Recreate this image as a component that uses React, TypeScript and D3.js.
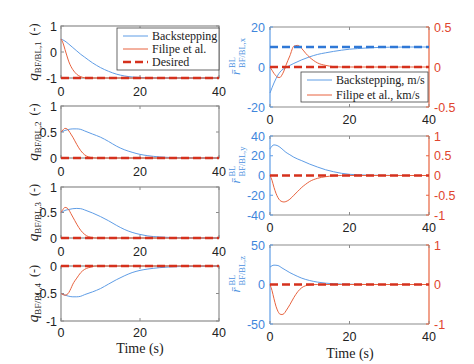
// @ts-nocheck
import * as d3 from "d3";

// time samples (s)
const tBlue = [0, 1, 2, 3, 4, 5, 6, 8, 10, 12, 14, 16, 18, 20, 22, 25, 30, 35, 40];
const tRed = [0, 0.5, 1, 1.5, 2, 2.5, 3, 3.5, 4, 5, 6, 7, 8, 9, 10, 12, 14, 16, 18, 20, 40];

// quaternion components, Backstepping (blue) and Filipe et al. (red)
const q1Blue = [0.5, 0.42, 0.3, 0.17, 0.04, -0.09, -0.2, -0.42, -0.6, -0.74, -0.85, -0.92, -0.96, -0.98, -0.99, -1, -1, -1, -1];
const q1Red = [0.5, 0.35, 0.1, -0.15, -0.38, -0.55, -0.68, -0.78, -0.86, -0.95, -0.99, -1, -1, -1, -1, -1, -1, -1, -1, -1, -1];
const q2Blue = [0.5, 0.53, 0.55, 0.56, 0.56, 0.55, 0.52, 0.46, 0.4, 0.32, 0.23, 0.16, 0.11, 0.07, 0.045, 0.02, 0.005, 0, 0];
const q2Red = [0.5, 0.54, 0.57, 0.56, 0.52, 0.46, 0.4, 0.33, 0.26, 0.14, 0.06, 0.02, 0.005, 0, 0, 0, 0, 0, 0, 0, 0];
const q3Blue = [0.5, 0.54, 0.56, 0.575, 0.58, 0.575, 0.55, 0.49, 0.42, 0.34, 0.25, 0.17, 0.11, 0.07, 0.04, 0.02, 0.005, 0, 0];
const q3Red = [0.5, 0.56, 0.6, 0.59, 0.55, 0.48, 0.41, 0.34, 0.27, 0.15, 0.07, 0.025, 0.008, 0, 0, 0, 0, 0, 0, 0, 0];
const q4Blue = [-0.5, -0.53, -0.55, -0.56, -0.56, -0.55, -0.52, -0.47, -0.41, -0.33, -0.25, -0.18, -0.12, -0.08, -0.055, -0.03, -0.01, -0.003, 0];
const q4Red = [-0.5, -0.52, -0.53, -0.52, -0.48, -0.41, -0.33, -0.27, -0.22, -0.12, -0.06, -0.03, -0.01, 0, 0, 0, 0, 0, 0, 0, 0];

// position error, Backstepping in m/s (left axis), Filipe et al. in km/s (right axis)
const rxBlue = [-13, -8, -4, -1.5, -0.3, 0.8, 1.8, 3.6, 5.1, 6.3, 7.1, 7.8, 8.4, 8.9, 9.2, 9.6, 9.9, 10, 10];
const rxRed = [0, -0.04, -0.08, -0.11, -0.13, -0.13, -0.1, -0.05, 0.02, 0.14, 0.26, 0.27, 0.23, 0.17, 0.12, 0.05, 0.02, 0.005, 0, 0, 0];
const ryBlue = [27, 31, 30, 27, 23.5, 21, 18.5, 15, 11.5, 8.5, 5.8, 3.8, 2.2, 1.2, 0.7, 0.3, 0.1, 0, 0];
const ryRed = [0, -0.12, -0.3, -0.45, -0.56, -0.63, -0.66, -0.67, -0.66, -0.6, -0.5, -0.4, -0.3, -0.22, -0.15, -0.07, -0.03, -0.01, 0, 0, 0];
const rzBlue = [22, 24.5, 24, 21, 18, 15, 12.5, 8, 5, 3, 1.7, 0.9, 0.5, 0.3, 0.15, 0.05, 0, 0, 0];
const rzRed = [0, -0.15, -0.36, -0.55, -0.68, -0.75, -0.76, -0.74, -0.67, -0.51, -0.33, -0.18, -0.08, -0.03, -0.01, 0, 0, 0, 0, 0, 0];

const xTicks = [0, 20, 40];
const legendLeft = ["Backstepping", "Filipe et al.", "Desired"];
const legendRight = ["Backstepping, m/s", "Filipe et al., km/s"];

const BLUE = "#5f9de6";
const RED = "#e8633f";
const DASH_RED = "#d5311d";
const DASH_BLUE = "#2f78d6";
const AX = "#8c8c8c";
const SANS = "Liberation Sans, Arial, sans-serif";
const SERIF = "Liberation Serif, Times New Roman, serif";

const pairs = (t, v) => t.map((d, i) => [d, v[i]]);

function LeftPanel({ top, h, domain, ticks, blue, red, desired, idx, legend, tickGap = 18 }) {
  const x = d3.scaleLinear().domain([0, 40]).range([61, 219]);
  const y = d3.scaleLinear().domain(domain).range([top + h, top]);
  const line = d3.line().x((d) => x(d[0])).y((d) => y(d[1])).curve(d3.curveMonotoneX);
  const cy = top + h / 2;
  return (
    <g>
      <rect x={61} y={top} width={158} height={h} fill="white" stroke={AX} strokeWidth={1.2} />
      {xTicks.map((t) => (
        <g key={"x" + t}>
          <line x1={x(t)} x2={x(t)} y1={top + h} y2={top + h - 3} stroke={AX} />
          <line x1={x(t)} x2={x(t)} y1={top} y2={top + 3} stroke={AX} />
          <text x={x(t)} y={top + h + tickGap} textAnchor="middle" fontSize={12.5} fontFamily={SANS} fill="#222">{t}</text>
        </g>
      ))}
      {ticks.map((t) => (
        <g key={"y" + t}>
          <line x1={61} x2={64} y1={y(t)} y2={y(t)} stroke={AX} />
          <line x1={219} x2={216} y1={y(t)} y2={y(t)} stroke={AX} />
          <text x={57} y={y(t) + 4.5} textAnchor="end" fontSize={12.5} fontFamily={SANS} fill="#222">{t}</text>
        </g>
      ))}
      <path d={line(pairs(tBlue, blue))} fill="none" stroke={BLUE} strokeWidth={1} />
      <path d={line(pairs(tRed, red))} fill="none" stroke={RED} strokeWidth={1} />
      <line x1={x(0)} x2={x(40)} y1={y(desired)} y2={y(desired)} stroke={DASH_RED} strokeWidth={2.5} strokeDasharray="8,4" />
      <g transform={`translate(38,${cy}) rotate(-90)`}>
        <text textAnchor="middle" fontFamily={SERIF} fill="#222">
          <tspan fontSize={15} fontStyle="italic">q</tspan>
          <tspan fontSize={9} dy={3}>BF/BL,{idx}</tspan>
          <tspan fontSize={12} dy={-3}>{"\u00a0\u00a0(-)"}</tspan>
        </text>
      </g>
      {legend && (
        <g>
          <rect x={117} y={28} width={102} height={42} fill="white" stroke="#444" strokeWidth={0.8} />
          {legendLeft.map((s, i) => (
            <g key={s}>
              <line x1={123} x2={148} y1={36 + i * 13} y2={36 + i * 13}
                stroke={i === 0 ? BLUE : i === 1 ? RED : DASH_RED}
                strokeWidth={i === 2 ? 2.5 : 1} strokeDasharray={i === 2 ? "8,4" : null} />
              <text x={152} y={40 + i * 13} fontSize={12} fontFamily={SERIF} fill="#222">{s}</text>
            </g>
          ))}
        </g>
      )}
    </g>
  );
}

function RightPanel({ top, h, lDomain, lTicks, rDomain, rTicks, blue, red, blueRef, axis, legend }) {
  const x = d3.scaleLinear().domain([0, 40]).range([270, 429]);
  const yl = d3.scaleLinear().domain(lDomain).range([top + h, top]);
  const yr = d3.scaleLinear().domain(rDomain).range([top + h, top]);
  const lineL = d3.line().x((d) => x(d[0])).y((d) => yl(d[1])).curve(d3.curveMonotoneX);
  const lineR = d3.line().x((d) => x(d[0])).y((d) => yr(d[1])).curve(d3.curveMonotoneX);
  const cy = top + h / 2 - 13;
  return (
    <g>
      <rect x={270} y={top} width={159} height={h} fill="white" stroke="none" />
      <line x1={270} x2={429} y1={top} y2={top} stroke={AX} strokeWidth={1.2} />
      <line x1={270} x2={429} y1={top + h} y2={top + h} stroke={AX} strokeWidth={1.2} />
      <line x1={270} x2={270} y1={top} y2={top + h} stroke={BLUE} strokeWidth={1.2} />
      <line x1={429} x2={429} y1={top} y2={top + h} stroke={RED} strokeWidth={1.2} />
      {xTicks.map((t) => (
        <g key={"x" + t}>
          <line x1={x(t)} x2={x(t)} y1={top + h} y2={top + h - 3} stroke={AX} />
          <line x1={x(t)} x2={x(t)} y1={top} y2={top + 3} stroke={AX} />
          <text x={x(t)} y={top + h + 17} textAnchor="middle" fontSize={12.5} fontFamily={SANS} fill="#222">{t}</text>
        </g>
      ))}
      {lTicks.map((t) => (
        <g key={"l" + t}>
          <line x1={270} x2={273} y1={yl(t)} y2={yl(t)} stroke={BLUE} />
          <text x={265} y={yl(t) + 4.5} textAnchor="end" fontSize={12.5} fontFamily={SANS} fill="#3f86dc">{t}</text>
        </g>
      ))}
      {rTicks.map((t) => (
        <g key={"r" + t}>
          <line x1={429} x2={426} y1={yr(t)} y2={yr(t)} stroke={RED} />
          <text x={434} y={yr(t) + 4.5} textAnchor="start" fontSize={12.5} fontFamily={SANS} fill="#e0452e">{t}</text>
        </g>
      ))}
      <path d={lineL(pairs(tBlue, blue))} fill="none" stroke={BLUE} strokeWidth={1} />
      <path d={lineR(pairs(tRed, red))} fill="none" stroke={RED} strokeWidth={1} />
      {blueRef != null && (
        <line x1={x(0)} x2={x(40)} y1={yl(blueRef)} y2={yl(blueRef)} stroke={DASH_BLUE} strokeWidth={2.5} strokeDasharray="8,4" />
      )}
      <line x1={x(0)} x2={x(40)} y1={yr(0)} y2={yr(0)} stroke={DASH_RED} strokeWidth={2.5} strokeDasharray="8,4" />
      <g transform={`translate(241,${cy}) rotate(-90)`} fontFamily={SERIF} fill="#4a8fe0">
        <text x={-21} y={-1} fontSize={13} fontStyle="italic">{"r\u0304"}</text>
        <text x={-14} y={-6} fontSize={8.5}>BL</text>
        <text x={-14} y={3.5} fontSize={8.5}>{"BF/BL," + axis}</text>
      </g>
      {legend && (
        <g>
          <rect x={301} y={72} width={127} height={30} fill="white" stroke="#444" strokeWidth={0.8} />
          {legendRight.map((s, i) => (
            <g key={s}>
              <line x1={307} x2={332} y1={80 + i * 15} y2={80 + i * 15} stroke={i === 0 ? BLUE : RED} strokeWidth={1} />
              <text x={336} y={84 + i * 15} fontSize={12} fontFamily={SERIF} fill="#222">{s}</text>
            </g>
          ))}
        </g>
      )}
    </g>
  );
}

export default function App() {
  return (
    <svg width={474} height={364} style={{ position: "absolute", left: 0, top: 0, background: "white" }}>
      <LeftPanel top={26} h={52} domain={[-1, 1]} ticks={[-1, 0, 1]} blue={q1Blue} red={q1Red} desired={-1} idx={1} legend />
      <LeftPanel top={106} h={52} domain={[0, 1]} ticks={[0, 0.5, 1]} blue={q2Blue} red={q2Red} desired={0} idx={2} />
      <LeftPanel top={187} h={51} domain={[0, 1]} ticks={[0, 0.5, 1]} blue={q3Blue} red={q3Red} desired={0} idx={3} />
      <LeftPanel top={266} h={55} domain={[-1, 0]} ticks={[-1, -0.5, 0]} blue={q4Blue} red={q4Red} desired={0} idx={4} tickGap={16} />
      <text x={140} y={353} textAnchor="middle" fontSize={14} fontFamily={SERIF} fill="#222">Time (s)</text>

      <RightPanel top={27} h={80} lDomain={[-20, 20]} lTicks={[-20, 0, 20]} rDomain={[-0.5, 0.5]} rTicks={[-0.5, 0, 0.5]}
        blue={rxBlue} red={rxRed} blueRef={10} axis="x" legend />
      <RightPanel top={136} h={79} lDomain={[-40, 40]} lTicks={[-40, -20, 0, 20, 40]} rDomain={[-1, 1]} rTicks={[-1, -0.5, 0, 0.5, 1]}
        blue={ryBlue} red={ryRed} axis="y" />
      <RightPanel top={245} h={79} lDomain={[-50, 50]} lTicks={[-50, 0, 50]} rDomain={[-1, 1]} rTicks={[-1, 0, 1]}
        blue={rzBlue} red={rzRed} axis="z" />
      <text x={350} y={358} textAnchor="middle" fontSize={14} fontFamily={SERIF} fill="#222">Time (s)</text>
    </svg>
  );
}
